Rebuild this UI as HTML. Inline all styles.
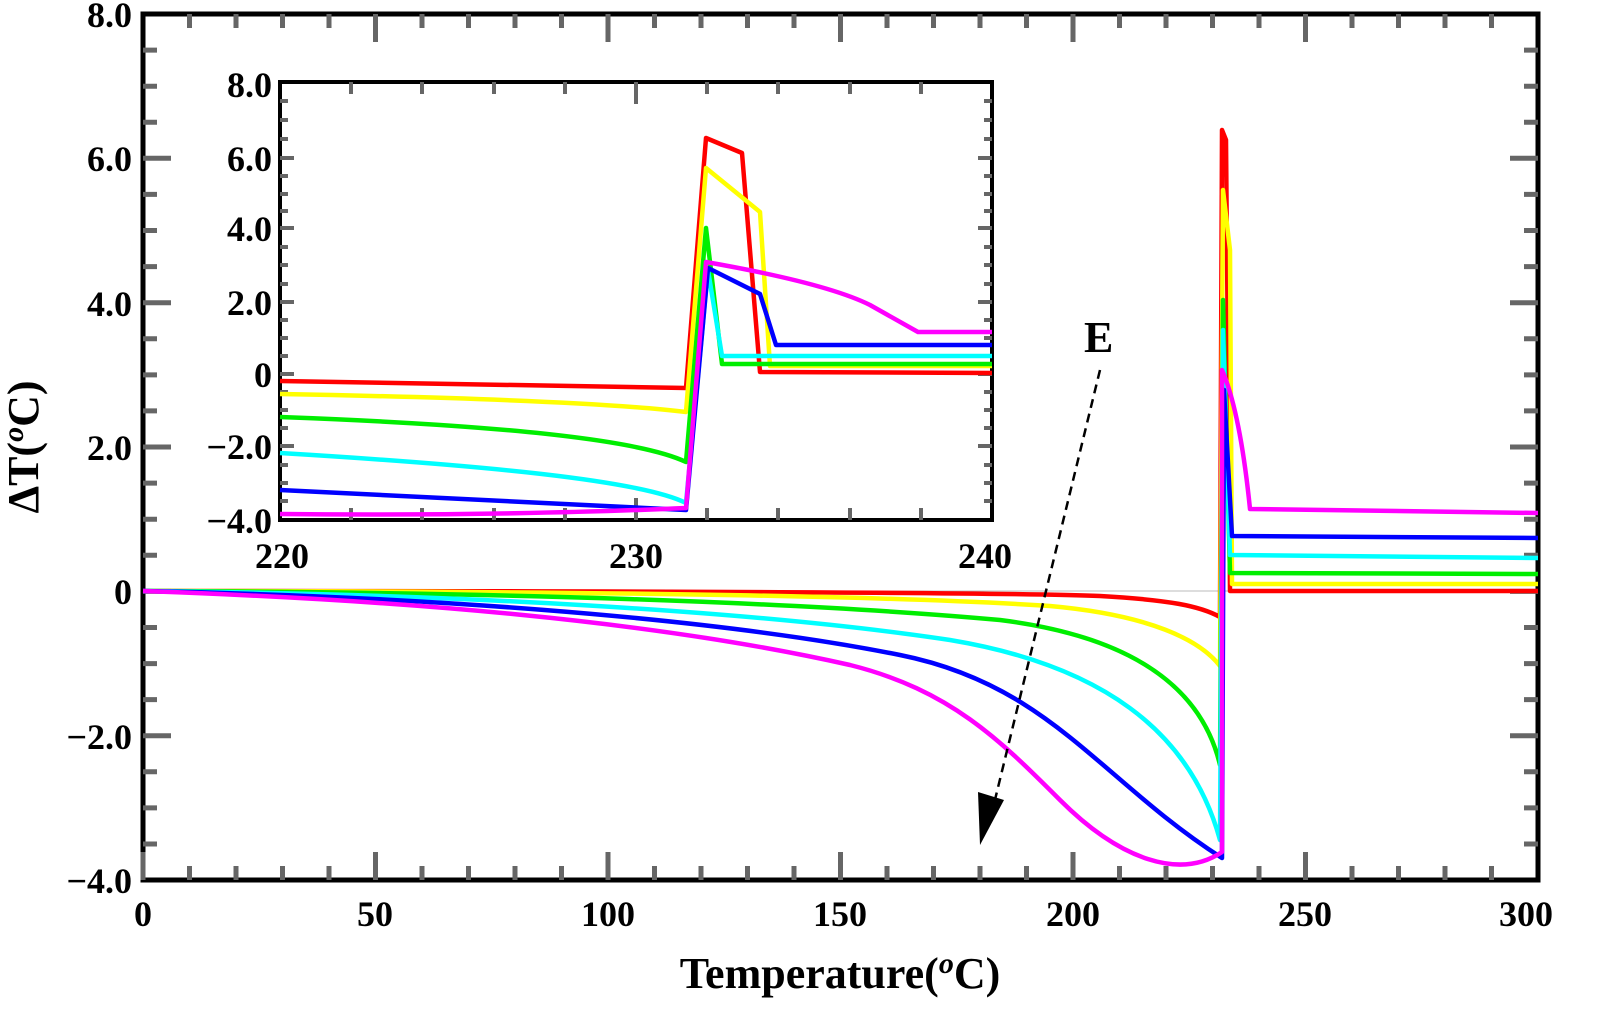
<!DOCTYPE html>
<html><head><meta charset="utf-8"><style>
html,body{margin:0;padding:0;background:#fff}
svg{display:block}
text{font-family:"Liberation Serif",serif;font-weight:bold;fill:#000}
</style></head><body>
<svg width="1600" height="1016" viewBox="0 0 1600 1016" xmlns="http://www.w3.org/2000/svg">
<!-- main frame -->
<rect x="143" y="14" width="1395" height="866" fill="none" stroke="#000" stroke-width="5"/>
<line x1="143" y1="591" x2="1538" y2="591" stroke="#bbb" stroke-width="1"/>
<g stroke="#666" stroke-width="5">
<path d="
M143 880v-28M189.5 880v-14M236 880v-14M282.5 880v-14M329 880v-14M375.5 880v-28M422 880v-14M468.5 880v-14M515 880v-14M561.5 880v-14M608 880v-28M654.5 880v-14M701 880v-14M747.5 880v-14M794 880v-14M840.5 880v-28M887 880v-14M933.5 880v-14M980 880v-14M1026.5 880v-14M1073 880v-28M1119.5 880v-14M1166 880v-14M1212.5 880v-14M1259 880v-14M1305.5 880v-28M1352 880v-14M1398.5 880v-14M1445 880v-14M1491.5 880v-14
M189.5 14v14M236 14v14M282.5 14v14M329 14v14M375.5 14v28M422 14v14M468.5 14v14M515 14v14M561.5 14v14M608 14v28M654.5 14v14M701 14v14M747.5 14v14M794 14v14M840.5 14v28M887 14v14M933.5 14v14M980 14v14M1026.5 14v14M1073 14v28M1119.5 14v14M1166 14v14M1212.5 14v14M1259 14v14M1305.5 14v28M1352 14v14M1398.5 14v14M1445 14v14M1491.5 14v14
"/>
<path d="
M143 50.1h14M143 86.2h14M143 122.3h14M143 158.3h28M143 194.4h14M143 230.5h14M143 266.6h14M143 302.7h28M143 338.8h14M143 374.9h14M143 410.9h14M143 447h28M143 483.1h14M143 519.2h14M143 555.3h14M143 591.4h28M143 627.5h14M143 663.6h14M143 699.6h14M143 735.7h28M143 771.8h14M143 807.9h14M143 844h14
M1538 50.1h-14M1538 86.2h-14M1538 122.3h-14M1538 158.3h-28M1538 194.4h-14M1538 230.5h-14M1538 266.6h-14M1538 302.7h-28M1538 338.8h-14M1538 374.9h-14M1538 410.9h-14M1538 447h-28M1538 483.1h-14M1538 519.2h-14M1538 555.3h-14M1538 591.4h-28M1538 627.5h-14M1538 663.6h-14M1538 699.6h-14M1538 735.7h-28M1538 771.8h-14M1538 807.9h-14M1538 844h-14
"/>
</g>
<g fill="none" stroke-width="4.5" stroke-linejoin="round">
<path stroke="#ff0000" d="M143 591 C600 591 1000 592 1100 596 C1170 600 1200 606 1220 617 L1222 130 L1226 140 L1230 591 L1538 591"/>
<path stroke="#ffff00" d="M143 591 C600 591 900 596 1050 606 C1150 615 1200 640 1220 666 L1223 190 L1230 250 L1232 584 L1538 584"/>
<path stroke="#00ee00" d="M143 591 C500 592 800 602 1000 620 C1120 635 1200 680 1220 765 L1223 300 L1230 573 L1538 574"/>
<path stroke="#00ffff" d="M143 591 C450 594 750 610 950 640 C1100 665 1190 730 1220 840 L1223 330 L1230 555 L1538 558"/>
<path stroke="#0000ff" d="M143 591 C400 596 700 615 900 655 C1050 685 1100 780 1222 858 L1224 390 L1232 536 L1538 538"/>
<path stroke="#ff00ff" d="M143 591 C400 600 650 620 850 665 C950 690 1000 740 1060 800 C1120 860 1180 880 1222 852 L1222 370 C1235 400 1244 450 1250 509 L1538 513"/>
</g>
<line x1="1100" y1="370" x2="992" y2="812" stroke="#000" stroke-width="2.5" stroke-dasharray="9,6"/>
<polygon points="980,845 978,792 1004,800" fill="#000"/>
<text x="1084" y="352" font-size="44">E</text>
<g font-size="36" text-anchor="end">
<text x="132" y="27">8.0</text>
<text x="132" y="171">6.0</text>
<text x="132" y="316">4.0</text>
<text x="132" y="460">2.0</text>
<text x="132" y="604">0</text>
<text x="132" y="749">−2.0</text>
<text x="132" y="893">−4.0</text>
</g>
<g font-size="36" text-anchor="middle">
<text x="143" y="926">0</text>
<text x="375" y="926">50</text>
<text x="608" y="926">100</text>
<text x="840" y="926">150</text>
<text x="1073" y="926">200</text>
<text x="1305" y="926">250</text>
<text x="1526" y="926">300</text>
</g>
<text x="840" y="988" font-size="44" text-anchor="middle">Temperature(<tspan font-style="italic" font-size="30" dy="-15">o</tspan><tspan dy="15">C)</tspan></text>
<text transform="translate(38,447) rotate(-90)" font-size="44" text-anchor="middle">ΔT(<tspan font-style="italic" font-size="30" dy="-15">o</tspan><tspan dy="15">C)</tspan></text>
<!-- inset -->
<rect x="280" y="82" width="712" height="438" fill="#fff" stroke="#000" stroke-width="4"/>
<g stroke="#666" stroke-width="4">
<path d="M351 520v-12M422 520v-12M494 520v-12M565 520v-12M636 520v-22M707 520v-12M778 520v-12M850 520v-12M921 520v-12
M351 82v12M422 82v12M494 82v12M565 82v12M636 82v22M707 82v12M778 82v12M850 82v12M921 82v12
M280 101h8M280 120h8M280 139h8M280 158h14M280 176h8M280 194h8M280 211h8M280 228h14M280 247h8M280 265h8M280 284h8M280 302h14M280 320h8M280 338h8M280 356h8M280 374h14M280 392h8M280 410h8M280 428h8M280 446h14M280 465h8M280 483h8M280 501h8
M992 101h-8M992 120h-8M992 139h-8M992 158h-14M992 176h-8M992 194h-8M992 211h-8M992 228h-14M992 247h-8M992 265h-8M992 284h-8M992 302h-14M992 320h-8M992 338h-8M992 356h-8M992 374h-14M992 392h-8M992 410h-8M992 428h-8M992 446h-14M992 465h-8M992 483h-8M992 501h-8"/>
</g>
<g fill="none" stroke-width="4.5" stroke-linejoin="round">
<path stroke="#ff0000" d="M280 381 L686 388 L706 138 L742 153 L760 372 L992 373"/>
<path stroke="#ffff00" d="M280 394 C500 398 620 404 686 412 L706 168 L760 212 L770 366 L992 366"/>
<path stroke="#00ee00" d="M280 417 C500 425 640 440 686 462 L706 228 L722 364 L992 364"/>
<path stroke="#00ffff" d="M280 453 C480 465 640 480 686 503 L708 270 L722 356 L992 356"/>
<path stroke="#0000ff" d="M280 490 C450 498 600 505 686 510 L708 268 L760 294 L776 345 L992 345"/>
<path stroke="#ff00ff" d="M280 514 C450 516 600 512 686 508 L706 262 C780 275 840 290 870 305 L918 332 L992 332"/>
</g>
<g font-size="36" text-anchor="end">
<text x="272" y="97">8.0</text>
<text x="272" y="171">6.0</text>
<text x="272" y="241">4.0</text>
<text x="272" y="315">2.0</text>
<text x="272" y="387">0</text>
<text x="272" y="459">−2.0</text>
<text x="272" y="533">−4.0</text>
</g>
<g font-size="36" text-anchor="middle">
<text x="282" y="568">220</text>
<text x="636" y="568">230</text>
<text x="985" y="568">240</text>
</g>
</svg>
</body></html>
